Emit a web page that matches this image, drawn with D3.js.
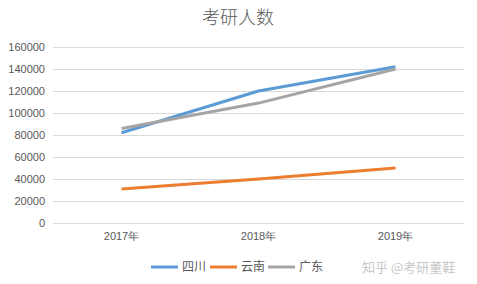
<!DOCTYPE html>
<html>
<head>
<meta charset="utf-8">
<script src="https://cdn.jsdelivr.net/npm/d3@7"></script>
<style>
  body { margin: 0; background: #fff; }
  svg { display: block; font-family: "Microsoft YaHei", "Noto Sans CJK SC", sans-serif; }
</style>
</head>
<body>
<svg id="chart" width="477" height="284"></svg>
<script>
(function () {
  'use strict';

  // data
  const years = ['2017年', '2018年', '2019年'];
  const sichuan = [82000, 120000, 142000];
  const yunnan = [31000, 40000, 50000];
  const guangdong = [86000, 109000, 140000];
  const yTicks = [0, 20000, 40000, 60000, 80000, 100000, 120000, 140000, 160000];

  const series = [
    { name: '四川', values: sichuan, color: '#5b9bd5' },
    { name: '云南', values: yunnan, color: '#ed7d31' },
    { name: '广东', values: guangdong, color: '#a5a5a5' }
  ];

  const width = 477;
  const height = 284;
  const margin = { top: 47, right: 13, bottom: 61, left: 53 };

  const svg = d3.select('#chart');

  const x = d3.scaleBand()
      .domain(years)
      .range([margin.left, width - margin.right]);

  const y = d3.scaleLinear()
      .domain([0, 160000])
      .range([height - margin.bottom, margin.top]);

  // title
  svg.append('text')
    .attr('x', 238)
    .attr('y', 24)
    .attr('text-anchor', 'middle')
    .attr('fill', '#595959')
    .style('font-size', '18px')
    .style('font-weight', '300')
    .text('考研人数');

  // gridlines
  svg.append('g')
    .selectAll('line')
    .data(yTicks)
    .enter()
    .append('line')
    .attr('x1', margin.left)
    .attr('x2', width - margin.right)
    .attr('y1', d => y(d) + 0.5)
    .attr('y2', d => y(d) + 0.5)
    .attr('stroke', '#d9d9d9')
    .attr('stroke-width', 1);

  // y axis labels
  const yAxis = d3.axisLeft(y)
      .tickValues(yTicks)
      .tickFormat(d3.format('d'))
      .tickSize(0)
      .tickPadding(8);
  const gy = svg.append('g')
      .attr('transform', 'translate(' + margin.left + ',0)')
      .call(yAxis);
  gy.select('.domain').remove();
  gy.selectAll('text')
    .attr('fill', '#595959')
    .style('font-size', '11px')
    .style('font-family', '"Liberation Sans", Arial, sans-serif');

  // x axis labels
  const xAxis = d3.axisBottom(x).tickSize(0).tickPadding(9);
  const gx = svg.append('g')
      .attr('transform', 'translate(0,' + (height - margin.bottom) + ')')
      .call(xAxis);
  gx.select('.domain').remove();
  gx.selectAll('text')
    .attr('fill', '#595959')
    .style('font-size', '11px');

  // lines
  const line = d3.line()
      .x((d, i) => x(years[i]) + x.bandwidth() / 2)
      .y(d => y(d));

  svg.append('g')
    .selectAll('path')
    .data(series)
    .enter()
    .append('path')
    .attr('d', d => line(d.values))
    .attr('fill', 'none')
    .attr('stroke', d => d.color)
    .attr('stroke-width', 3)
    .attr('stroke-linejoin', 'round');

  // legend
  const legendX = [151, 210, 268];
  const legendY = 267;
  const lg = svg.append('g')
      .selectAll('g')
      .data(series)
      .enter()
      .append('g')
      .attr('transform', (d, i) => 'translate(' + legendX[i] + ',' + legendY + ')');

  lg.append('line')
    .attr('x1', 0)
    .attr('x2', 27)
    .attr('stroke', d => d.color)
    .attr('stroke-width', 3);

  lg.append('text')
    .attr('x', 31)
    .attr('dy', '0.36em')
    .attr('fill', '#595959')
    .style('font-size', '12px')
    .text(d => d.name);

  // watermark
  svg.append('text')
    .attr('x', 362)
    .attr('y', legendY)
    .attr('dy', '0.36em')
    .attr('fill', '#c8c8c8')
    .style('font-size', '13px')
    .text('知乎 @考研董鞋');
}());
</script>
</body>
</html>
